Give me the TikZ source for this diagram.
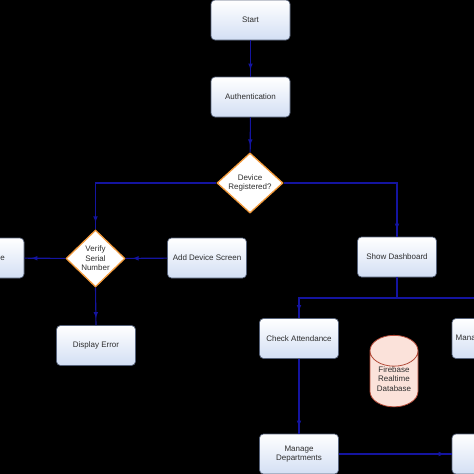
\documentclass[tikz,border=0pt]{standalone}
\usepackage{fontspec}
\setmainfont{Liberation Sans}
\usetikzlibrary{positioning,arrows,shapes.geometric,decorations.markings}
\definecolor{flowblue}{HTML}{1414A0}
\definecolor{boxline}{HTML}{56627A}
\definecolor{boxbot}{HTML}{D3DFF4}
\definecolor{decline}{HTML}{F29A3C}
\definecolor{dbfill}{HTML}{FBE2DA}
\definecolor{dbline}{HTML}{B24A38}
\definecolor{txt}{HTML}{2E2E2E}
\tikzset{
procbox/.style={
  rectangle, rounded corners=4pt,
  draw=boxline, line width=0.7pt,
  top color=white, bottom color=boxbot,
  minimum width=79pt, minimum height=40pt,
  inner sep=1pt, align=center,
  font=\fontsize{8}{9.5}\selectfont, text=txt
  },
decbox/.style={
  diamond, draw=decline, line width=1.3pt,
  fill=white, inner sep=0pt, align=center,
  font=\fontsize{8}{9.5}\selectfont, text=txt
  },
dbbox/.style={
  cylinder, shape border rotate=90, aspect=0.9,
  draw=dbline, line width=0.8pt, fill=dbfill,
  minimum width=48pt, minimum height=70pt,
  inner sep=0pt, align=center,
  font=\fontsize{8}{9.5}\selectfont, text=txt
  },
flow/.style={
  draw=flowblue, line width=1.1pt,
  postaction={decorate},
  decoration={markings,
    mark=at position -7pt with {\arrow[flowblue]{latex}}}
  },
link/.style={draw=flowblue, line width=1.1pt}
}

\begin{document}
\begin{tikzpicture}[x=1pt, y=-1pt, >=latex]
\useasboundingbox (0,0) rectangle (474,474);
\clip (0,0) rectangle (474,474);
\fill[black] (0,0) rectangle (474,474);

% main column
\node[procbox] (start) at (250.5,20) {Start};
\node[procbox] (auth) at (250.5,97) {Authentication};
\node[decbox, minimum width=66pt, minimum height=60pt]
  (reg) at (250,183) {Device\\Registered?};

% left branch
\node[decbox, minimum width=59pt, minimum height=57pt]
  (verify) at (95.5,258.5) {Verify\\Serial\\Number};
\node[procbox] (adddev) at (207,258) {Add Device Screen};
\node[procbox] (leftbox) at (-15.5,258) {Add Device};
\node[procbox] (err) at (96,345.5) {Display Error};

% right branch
\node[procbox] (dash) at (397,257) {Show Dashboard};
\node[procbox] (check) at (299,338.5) {Check Attendance};
\node[procbox] (mngatt) at (491.5,338.5) {Manage Attendance};
\node[procbox] (dept) at (299,454) {Manage\\Departments};
\node[procbox] (rbot) at (491.5,454) {};
\node[dbbox] (db) at (394,379) {Firebase\\Realtime\\Database};

\coordinate (split) at (397,298);

\draw[flow] (start) -- (auth);
\draw[flow] (auth) -- (reg);
\draw[flow] (reg.west) -| (verify.north);
\draw[flow] (reg.east) -| (dash.north);
\draw[flow] (adddev) -- (verify);
\draw[flow] (verify) -- (leftbox);
\draw[flow] (verify.south) -- (err.north);
\draw[link] (dash.south) -- (split);
\draw[flow] (split) -| (check.north);
\draw[flow] (split) -| (mngatt.north);
\draw[flow] (check) -- (dept);
\draw[flow] (dept) -- (rbot);
\end{tikzpicture}
\end{document}
